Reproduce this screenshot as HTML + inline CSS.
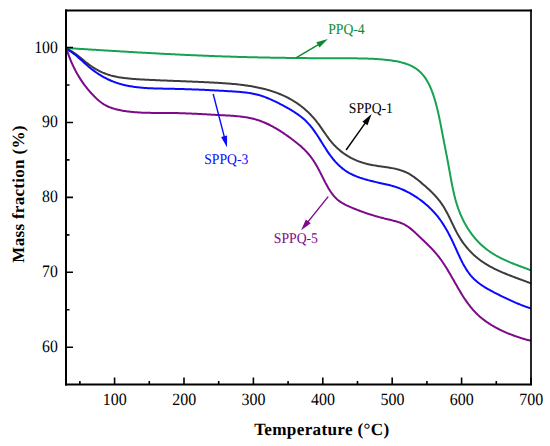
<!DOCTYPE html>
<html><head><meta charset="utf-8"><style>
html,body{margin:0;padding:0;background:#fff;width:550px;height:446px;overflow:hidden}
svg{display:block}
text{font-family:"Liberation Serif",serif;text-rendering:geometricPrecision}
</style></head><body>
<svg width="550" height="446" viewBox="0 0 550 446">
<rect width="550" height="446" fill="#fff"/>
<g fill="none" stroke-width="2" stroke-linejoin="round" stroke-linecap="round">
<path d="M66.89 48.06 L68.09 48.14 L69.29 48.21 L70.49 48.29 L71.69 48.37 L72.88 48.44 L74.08 48.52 L75.28 48.59 L76.48 48.67 L77.68 48.74 L78.88 48.82 L80.07 48.89 L81.27 48.97 L82.47 49.04 L83.67 49.12 L84.87 49.19 L86.06 49.27 L87.26 49.34 L88.46 49.42 L89.66 49.49 L90.85 49.57 L92.05 49.64 L93.25 49.72 L94.45 49.79 L95.64 49.87 L96.84 49.94 L98.04 50.01 L99.24 50.09 L100.43 50.16 L101.63 50.24 L102.83 50.31 L104.02 50.38 L105.22 50.46 L106.42 50.53 L107.62 50.60 L108.81 50.68 L110.01 50.75 L111.21 50.82 L112.40 50.89 L113.60 50.97 L114.80 51.04 L115.99 51.11 L117.19 51.18 L118.39 51.25 L119.58 51.33 L120.78 51.40 L121.98 51.47 L123.17 51.54 L124.37 51.61 L125.56 51.68 L126.76 51.75 L127.96 51.82 L129.15 51.89 L130.35 51.96 L131.55 52.03 L132.74 52.10 L133.94 52.17 L135.14 52.24 L136.33 52.31 L137.53 52.38 L138.72 52.44 L139.92 52.51 L141.12 52.58 L142.31 52.65 L143.51 52.71 L144.71 52.78 L145.90 52.85 L147.10 52.91 L148.30 52.98 L149.49 53.05 L150.69 53.11 L151.88 53.18 L153.08 53.24 L154.28 53.31 L155.47 53.37 L156.67 53.44 L157.87 53.50 L159.06 53.56 L160.26 53.63 L161.46 53.69 L162.65 53.75 L163.85 53.81 L165.05 53.88 L166.24 53.94 L167.44 54.00 L168.64 54.06 L169.83 54.12 L171.03 54.18 L172.23 54.24 L173.42 54.30 L174.62 54.36 L175.82 54.42 L177.01 54.48 L178.21 54.53 L179.41 54.59 L180.60 54.65 L181.80 54.71 L183.00 54.76 L184.20 54.82 L185.39 54.88 L186.59 54.93 L187.79 54.99 L188.99 55.04 L190.18 55.09 L191.38 55.15 L192.58 55.20 L193.78 55.25 L194.97 55.31 L196.17 55.36 L197.37 55.41 L198.57 55.46 L199.76 55.51 L200.96 55.56 L202.16 55.61 L203.36 55.66 L204.56 55.71 L205.76 55.76 L206.95 55.81 L208.15 55.85 L209.35 55.90 L210.55 55.95 L211.75 55.99 L212.95 56.04 L214.15 56.08 L215.35 56.13 L216.54 56.17 L217.74 56.22 L218.94 56.26 L220.14 56.30 L221.34 56.34 L222.54 56.39 L223.74 56.43 L224.94 56.47 L226.14 56.51 L227.34 56.55 L228.54 56.59 L229.74 56.62 L230.94 56.66 L232.14 56.70 L233.34 56.74 L234.54 56.77 L235.74 56.81 L236.94 56.84 L238.14 56.88 L239.34 56.91 L240.54 56.95 L241.74 56.98 L242.95 57.01 L244.15 57.05 L245.35 57.08 L246.55 57.11 L247.75 57.14 L248.95 57.17 L250.15 57.20 L251.35 57.23 L252.55 57.26 L253.75 57.29 L254.95 57.31 L256.16 57.34 L257.36 57.37 L258.56 57.40 L259.76 57.42 L260.96 57.45 L262.16 57.47 L263.36 57.50 L264.56 57.52 L265.76 57.55 L266.96 57.57 L268.17 57.59 L269.37 57.62 L270.57 57.64 L271.77 57.66 L272.97 57.68 L274.17 57.70 L275.37 57.72 L276.57 57.74 L277.77 57.76 L278.97 57.78 L280.17 57.80 L281.37 57.82 L282.57 57.84 L283.77 57.86 L284.97 57.87 L286.17 57.89 L287.37 57.91 L288.57 57.92 L289.77 57.94 L290.97 57.96 L292.17 57.97 L293.37 57.98 L294.57 58.00 L295.77 58.01 L296.97 58.03 L298.17 58.04 L299.36 58.05 L300.56 58.07 L301.76 58.08 L302.96 58.09 L304.16 58.10 L305.36 58.11 L306.55 58.12 L307.75 58.13 L308.95 58.14 L310.15 58.15 L311.34 58.16 L312.54 58.17 L313.74 58.18 L314.93 58.19 L316.13 58.20 L317.33 58.20 L318.52 58.21 L319.72 58.22 L320.91 58.22 L322.11 58.23 L323.30 58.24 L324.50 58.24 L325.69 58.25 L326.89 58.25 L328.08 58.26 L329.28 58.26 L330.47 58.27 L331.67 58.27 L332.86 58.28 L334.05 58.28 L335.25 58.28 L336.44 58.29 L337.63 58.29 L338.82 58.29 L340.02 58.29 L341.21 58.30 L342.40 58.30 L343.59 58.30 L344.78 58.30 L345.97 58.30 L347.16 58.30 L348.35 58.31 L349.55 58.31 L350.74 58.32 L351.93 58.32 L353.12 58.33 L354.31 58.34 L355.50 58.35 L356.70 58.36 L357.89 58.38 L359.08 58.39 L360.28 58.41 L361.47 58.44 L362.67 58.46 L363.86 58.49 L365.06 58.53 L366.26 58.56 L367.46 58.60 L368.65 58.65 L369.86 58.69 L371.06 58.75 L372.26 58.80 L373.46 58.87 L374.67 58.93 L375.88 59.00 L377.08 59.08 L378.29 59.17 L379.50 59.25 L380.72 59.35 L381.93 59.45 L383.15 59.56 L384.36 59.67 L385.58 59.79 L386.80 59.92 L388.02 60.06 L389.24 60.20 L390.46 60.36 L391.68 60.52 L392.90 60.70 L394.11 60.89 L395.31 61.09 L396.51 61.31 L397.71 61.55 L398.89 61.80 L400.07 62.07 L401.24 62.35 L402.40 62.66 L403.55 62.98 L404.69 63.33 L405.82 63.69 L406.93 64.08 L408.03 64.50 L409.12 64.94 L410.18 65.40 L411.24 65.89 L412.27 66.41 L413.29 66.95 L414.28 67.53 L415.26 68.13 L416.22 68.77 L417.15 69.43 L418.06 70.13 L418.95 70.86 L419.82 71.63 L420.66 72.43 L421.47 73.27 L422.26 74.14 L423.03 75.03 L423.77 75.96 L424.49 76.91 L425.19 77.88 L425.86 78.88 L426.51 79.90 L427.14 80.94 L427.74 81.99 L428.32 83.06 L428.88 84.15 L429.42 85.25 L429.95 86.36 L430.45 87.47 L430.93 88.60 L431.40 89.74 L431.84 90.89 L432.28 92.04 L432.70 93.19 L433.10 94.36 L433.49 95.52 L433.87 96.69 L434.24 97.86 L434.60 99.03 L434.95 100.20 L435.28 101.37 L435.61 102.54 L435.94 103.70 L436.25 104.87 L436.56 106.04 L436.85 107.20 L437.15 108.37 L437.43 109.53 L437.71 110.70 L437.98 111.86 L438.25 113.02 L438.51 114.19 L438.77 115.35 L439.02 116.51 L439.27 117.68 L439.51 118.84 L439.75 120.00 L439.99 121.17 L440.22 122.33 L440.45 123.49 L440.68 124.66 L440.90 125.82 L441.13 126.99 L441.35 128.15 L441.58 129.32 L441.80 130.48 L442.02 131.65 L442.24 132.81 L442.46 133.98 L442.69 135.15 L442.91 136.32 L443.14 137.49 L443.36 138.66 L443.59 139.83 L443.82 141.00 L444.05 142.17 L444.27 143.34 L444.50 144.51 L444.73 145.69 L444.96 146.86 L445.19 148.04 L445.42 149.21 L445.65 150.39 L445.88 151.56 L446.11 152.74 L446.34 153.92 L446.57 155.10 L446.80 156.28 L447.02 157.46 L447.25 158.64 L447.47 159.82 L447.70 161.00 L447.92 162.18 L448.14 163.37 L448.36 164.55 L448.58 165.73 L448.80 166.92 L449.01 168.10 L449.22 169.29 L449.44 170.48 L449.65 171.66 L449.86 172.85 L450.07 174.04 L450.28 175.23 L450.50 176.41 L450.71 177.60 L450.93 178.78 L451.14 179.97 L451.36 181.15 L451.59 182.34 L451.81 183.52 L452.04 184.70 L452.27 185.88 L452.51 187.06 L452.76 188.24 L453.00 189.42 L453.26 190.59 L453.52 191.76 L453.78 192.93 L454.06 194.10 L454.34 195.27 L454.62 196.43 L454.92 197.59 L455.22 198.75 L455.54 199.90 L455.86 201.06 L456.19 202.20 L456.53 203.35 L456.89 204.49 L457.25 205.63 L457.62 206.77 L458.01 207.90 L458.41 209.03 L458.82 210.15 L459.24 211.27 L459.68 212.39 L460.13 213.50 L460.59 214.60 L461.07 215.70 L461.56 216.80 L462.06 217.89 L462.58 218.97 L463.10 220.05 L463.65 221.12 L464.20 222.19 L464.77 223.24 L465.35 224.29 L465.95 225.34 L466.56 226.37 L467.18 227.40 L467.81 228.42 L468.46 229.43 L469.12 230.43 L469.80 231.42 L470.48 232.40 L471.18 233.37 L471.89 234.33 L472.62 235.28 L473.36 236.22 L474.11 237.15 L474.88 238.07 L475.65 238.98 L476.44 239.87 L477.25 240.75 L478.06 241.62 L478.89 242.48 L479.73 243.32 L480.59 244.16 L481.46 244.97 L482.34 245.78 L483.23 246.57 L484.13 247.34 L485.05 248.10 L485.98 248.85 L486.93 249.58 L487.88 250.29 L488.85 250.99 L489.83 251.68 L490.83 252.35 L491.83 253.00 L492.84 253.64 L493.87 254.27 L494.90 254.88 L495.95 255.49 L497.00 256.07 L498.06 256.65 L499.12 257.22 L500.20 257.77 L501.28 258.32 L502.37 258.85 L503.46 259.37 L504.56 259.89 L505.66 260.39 L506.77 260.89 L507.88 261.38 L509.00 261.86 L510.11 262.33 L511.23 262.80 L512.36 263.25 L513.48 263.71 L514.60 264.15 L515.73 264.59 L516.85 265.03 L517.98 265.46 L519.10 265.89 L520.22 266.31 L521.34 266.73 L522.46 267.14 L523.57 267.56 L524.68 267.97 L525.79 268.38 L526.89 268.78 L527.99 269.19 L529.08 269.59 L530.17 270.00" stroke="#16a252"/>
<path d="M66.93 48.89 L68.02 49.39 L69.09 49.92 L70.14 50.48 L71.17 51.07 L72.19 51.69 L73.20 52.34 L74.19 53.00 L75.17 53.69 L76.14 54.39 L77.10 55.11 L78.05 55.85 L78.99 56.59 L79.93 57.34 L80.87 58.10 L81.80 58.86 L82.74 59.63 L83.67 60.39 L84.61 61.16 L85.55 61.91 L86.49 62.67 L87.44 63.41 L88.39 64.14 L89.36 64.85 L90.33 65.55 L91.32 66.24 L92.31 66.91 L93.32 67.56 L94.33 68.19 L95.35 68.81 L96.39 69.40 L97.43 69.98 L98.48 70.54 L99.54 71.08 L100.60 71.60 L101.68 72.11 L102.76 72.59 L103.86 73.05 L104.96 73.48 L106.07 73.90 L107.19 74.29 L108.31 74.67 L109.44 75.02 L110.58 75.36 L111.73 75.67 L112.88 75.97 L114.04 76.25 L115.21 76.51 L116.38 76.75 L117.55 76.99 L118.73 77.20 L119.91 77.40 L121.10 77.59 L122.30 77.77 L123.49 77.93 L124.69 78.09 L125.89 78.23 L127.09 78.36 L128.30 78.49 L129.51 78.60 L130.72 78.71 L131.93 78.81 L133.14 78.90 L134.35 78.99 L135.57 79.08 L136.78 79.16 L137.99 79.23 L139.20 79.30 L140.41 79.38 L141.62 79.44 L142.83 79.51 L144.03 79.58 L145.24 79.64 L146.44 79.71 L147.65 79.77 L148.85 79.83 L150.05 79.89 L151.25 79.95 L152.45 80.01 L153.65 80.06 L154.84 80.12 L156.04 80.17 L157.23 80.23 L158.43 80.28 L159.62 80.33 L160.82 80.38 L162.01 80.43 L163.20 80.48 L164.39 80.53 L165.58 80.58 L166.77 80.62 L167.96 80.67 L169.15 80.72 L170.34 80.76 L171.53 80.81 L172.72 80.85 L173.91 80.90 L175.10 80.94 L176.28 80.99 L177.47 81.03 L178.66 81.08 L179.85 81.12 L181.03 81.17 L182.22 81.21 L183.41 81.26 L184.60 81.30 L185.78 81.35 L186.97 81.39 L188.16 81.44 L189.35 81.49 L190.53 81.53 L191.72 81.58 L192.91 81.63 L194.10 81.68 L195.29 81.73 L196.48 81.78 L197.67 81.83 L198.86 81.88 L200.05 81.93 L201.24 81.98 L202.43 82.04 L203.63 82.09 L204.82 82.15 L206.01 82.20 L207.21 82.26 L208.40 82.32 L209.60 82.38 L210.80 82.44 L212.00 82.51 L213.20 82.57 L214.40 82.64 L215.60 82.71 L216.80 82.77 L218.00 82.85 L219.21 82.92 L220.41 82.99 L221.62 83.07 L222.82 83.15 L224.03 83.23 L225.24 83.32 L226.44 83.40 L227.65 83.49 L228.86 83.59 L230.06 83.69 L231.27 83.79 L232.48 83.90 L233.68 84.01 L234.89 84.12 L236.09 84.24 L237.30 84.36 L238.50 84.49 L239.70 84.63 L240.90 84.77 L242.10 84.91 L243.30 85.07 L244.50 85.22 L245.69 85.39 L246.88 85.56 L248.08 85.74 L249.26 85.92 L250.45 86.11 L251.64 86.31 L252.82 86.51 L254.00 86.73 L255.18 86.95 L256.35 87.18 L257.53 87.42 L258.70 87.66 L259.86 87.92 L261.03 88.18 L262.19 88.46 L263.35 88.74 L264.50 89.03 L265.65 89.33 L266.80 89.64 L267.94 89.96 L269.08 90.30 L270.22 90.64 L271.35 90.99 L272.47 91.35 L273.60 91.73 L274.71 92.12 L275.83 92.51 L276.94 92.92 L278.04 93.34 L279.14 93.78 L280.24 94.22 L281.33 94.68 L282.41 95.15 L283.49 95.64 L284.56 96.13 L285.63 96.64 L286.69 97.17 L287.75 97.71 L288.80 98.26 L289.84 98.82 L290.88 99.40 L291.91 100.00 L292.94 100.61 L293.96 101.23 L294.97 101.87 L295.98 102.52 L296.98 103.19 L297.97 103.88 L298.95 104.58 L299.93 105.30 L300.90 106.02 L301.86 106.77 L302.81 107.53 L303.75 108.30 L304.68 109.08 L305.60 109.88 L306.51 110.69 L307.41 111.52 L308.29 112.35 L309.17 113.20 L310.03 114.06 L310.88 114.93 L311.72 115.82 L312.54 116.71 L313.35 117.62 L314.15 118.53 L314.93 119.46 L315.69 120.39 L316.45 121.34 L317.18 122.29 L317.91 123.25 L318.63 124.22 L319.33 125.19 L320.03 126.17 L320.72 127.15 L321.41 128.13 L322.09 129.12 L322.77 130.10 L323.45 131.09 L324.13 132.07 L324.81 133.05 L325.49 134.03 L326.17 135.01 L326.86 135.98 L327.56 136.94 L328.26 137.90 L328.97 138.85 L329.69 139.79 L330.42 140.73 L331.17 141.65 L331.93 142.56 L332.70 143.45 L333.49 144.34 L334.30 145.21 L335.13 146.06 L335.97 146.90 L336.83 147.73 L337.70 148.54 L338.59 149.33 L339.50 150.11 L340.42 150.87 L341.36 151.62 L342.31 152.34 L343.27 153.06 L344.25 153.75 L345.24 154.43 L346.24 155.08 L347.26 155.72 L348.28 156.35 L349.32 156.95 L350.37 157.53 L351.43 158.10 L352.50 158.64 L353.58 159.17 L354.67 159.68 L355.76 160.16 L356.87 160.63 L357.98 161.07 L359.10 161.50 L360.23 161.90 L361.37 162.28 L362.51 162.64 L363.65 162.99 L364.81 163.31 L365.97 163.62 L367.13 163.91 L368.30 164.18 L369.47 164.44 L370.65 164.69 L371.83 164.93 L373.01 165.15 L374.20 165.37 L375.39 165.57 L376.58 165.77 L377.78 165.96 L378.97 166.14 L380.17 166.32 L381.37 166.49 L382.57 166.66 L383.77 166.83 L384.97 167.00 L386.17 167.17 L387.37 167.34 L388.57 167.53 L389.76 167.72 L390.95 167.92 L392.13 168.13 L393.31 168.36 L394.48 168.60 L395.65 168.86 L396.81 169.15 L397.96 169.45 L399.10 169.77 L400.23 170.11 L401.35 170.47 L402.47 170.86 L403.57 171.27 L404.66 171.71 L405.73 172.18 L406.80 172.67 L407.85 173.19 L408.88 173.74 L409.90 174.32 L410.90 174.93 L411.90 175.57 L412.88 176.23 L413.85 176.91 L414.81 177.61 L415.76 178.33 L416.71 179.06 L417.65 179.81 L418.59 180.56 L419.52 181.33 L420.46 182.10 L421.39 182.87 L422.32 183.65 L423.24 184.44 L424.17 185.23 L425.08 186.02 L426.00 186.83 L426.91 187.64 L427.81 188.45 L428.70 189.27 L429.59 190.10 L430.47 190.94 L431.34 191.78 L432.20 192.63 L433.05 193.49 L433.89 194.36 L434.71 195.24 L435.53 196.13 L436.33 197.02 L437.12 197.93 L437.89 198.85 L438.65 199.77 L439.39 200.71 L440.11 201.66 L440.82 202.62 L441.51 203.59 L442.18 204.57 L442.84 205.56 L443.47 206.56 L444.10 207.58 L444.70 208.60 L445.30 209.63 L445.88 210.67 L446.45 211.71 L447.02 212.76 L447.57 213.82 L448.11 214.88 L448.65 215.95 L449.18 217.02 L449.71 218.09 L450.23 219.17 L450.75 220.25 L451.27 221.33 L451.78 222.41 L452.30 223.49 L452.82 224.58 L453.34 225.66 L453.86 226.74 L454.39 227.81 L454.92 228.89 L455.46 229.96 L456.01 231.02 L456.57 232.09 L457.13 233.14 L457.71 234.19 L458.30 235.24 L458.90 236.28 L459.51 237.31 L460.14 238.33 L460.78 239.34 L461.44 240.34 L462.11 241.34 L462.79 242.32 L463.49 243.29 L464.21 244.26 L464.94 245.21 L465.68 246.16 L466.43 247.09 L467.20 248.01 L467.98 248.92 L468.78 249.81 L469.59 250.69 L470.41 251.57 L471.24 252.42 L472.09 253.27 L472.95 254.10 L473.82 254.92 L474.70 255.72 L475.60 256.51 L476.51 257.28 L477.43 258.04 L478.36 258.78 L479.30 259.51 L480.26 260.22 L481.22 260.92 L482.20 261.60 L483.19 262.27 L484.18 262.93 L485.19 263.57 L486.20 264.20 L487.22 264.82 L488.25 265.42 L489.29 266.01 L490.34 266.60 L491.40 267.17 L492.46 267.73 L493.52 268.28 L494.60 268.82 L495.68 269.35 L496.76 269.87 L497.85 270.38 L498.95 270.89 L500.05 271.38 L501.15 271.87 L502.26 272.35 L503.37 272.83 L504.49 273.29 L505.61 273.76 L506.73 274.21 L507.85 274.66 L508.97 275.11 L510.10 275.55 L511.22 275.98 L512.35 276.42 L513.48 276.84 L514.60 277.27 L515.73 277.69 L516.86 278.11 L517.98 278.53 L519.10 278.94 L520.22 279.36 L521.34 279.77 L522.46 280.18 L523.57 280.60 L524.68 281.01 L525.79 281.42 L526.89 281.83 L527.99 282.25 L529.09 282.66 L530.18 283.08" stroke="#3c3c3c"/>
<path d="M66.86 49.24 L67.93 49.83 L68.98 50.45 L70.00 51.08 L71.01 51.74 L71.99 52.42 L72.97 53.12 L73.92 53.84 L74.86 54.57 L75.80 55.32 L76.72 56.08 L77.63 56.85 L78.53 57.63 L79.43 58.42 L80.32 59.21 L81.20 60.01 L82.09 60.82 L82.97 61.62 L83.86 62.43 L84.75 63.23 L85.64 64.04 L86.53 64.83 L87.43 65.62 L88.34 66.41 L89.26 67.18 L90.19 67.95 L91.12 68.70 L92.07 69.44 L93.03 70.17 L93.99 70.89 L94.97 71.60 L95.95 72.29 L96.95 72.98 L97.95 73.64 L98.96 74.30 L99.98 74.94 L101.01 75.57 L102.04 76.18 L103.08 76.78 L104.13 77.36 L105.19 77.92 L106.25 78.47 L107.32 79.01 L108.40 79.52 L109.48 80.03 L110.57 80.51 L111.67 80.97 L112.77 81.42 L113.88 81.85 L114.99 82.26 L116.11 82.66 L117.23 83.03 L118.36 83.39 L119.49 83.74 L120.63 84.06 L121.77 84.37 L122.92 84.67 L124.07 84.95 L125.22 85.22 L126.38 85.48 L127.55 85.72 L128.71 85.94 L129.88 86.16 L131.06 86.36 L132.23 86.55 L133.41 86.73 L134.60 86.90 L135.78 87.05 L136.97 87.20 L138.16 87.34 L139.36 87.47 L140.55 87.58 L141.75 87.69 L142.95 87.80 L144.15 87.89 L145.36 87.98 L146.56 88.05 L147.77 88.13 L148.97 88.19 L150.18 88.25 L151.39 88.31 L152.60 88.36 L153.81 88.40 L155.03 88.44 L156.24 88.48 L157.45 88.51 L158.66 88.55 L159.88 88.57 L161.09 88.60 L162.30 88.62 L163.51 88.65 L164.72 88.67 L165.93 88.69 L167.14 88.71 L168.35 88.73 L169.56 88.75 L170.76 88.77 L171.96 88.80 L173.17 88.82 L174.37 88.85 L175.57 88.88 L176.77 88.91 L177.96 88.94 L179.16 88.97 L180.36 89.00 L181.55 89.03 L182.75 89.07 L183.94 89.10 L185.13 89.14 L186.32 89.18 L187.51 89.21 L188.70 89.25 L189.89 89.30 L191.08 89.34 L192.27 89.38 L193.46 89.43 L194.64 89.47 L195.83 89.52 L197.02 89.57 L198.21 89.61 L199.39 89.66 L200.58 89.71 L201.77 89.77 L202.95 89.82 L204.14 89.87 L205.33 89.93 L206.51 89.98 L207.70 90.04 L208.89 90.10 L210.08 90.16 L211.26 90.22 L212.45 90.28 L213.64 90.34 L214.83 90.40 L216.02 90.46 L217.21 90.53 L218.41 90.59 L219.60 90.66 L220.79 90.73 L221.99 90.80 L223.18 90.87 L224.38 90.94 L225.58 91.01 L226.77 91.08 L227.97 91.15 L229.18 91.22 L230.38 91.30 L231.58 91.37 L232.79 91.45 L233.99 91.53 L235.20 91.61 L236.41 91.69 L237.62 91.77 L238.82 91.86 L240.03 91.96 L241.24 92.06 L242.44 92.17 L243.64 92.29 L244.84 92.42 L246.04 92.56 L247.24 92.71 L248.43 92.87 L249.61 93.05 L250.80 93.24 L251.97 93.45 L253.15 93.67 L254.31 93.91 L255.47 94.17 L256.63 94.45 L257.78 94.74 L258.92 95.06 L260.05 95.39 L261.18 95.75 L262.30 96.12 L263.42 96.51 L264.53 96.91 L265.64 97.33 L266.74 97.76 L267.84 98.21 L268.94 98.67 L270.03 99.14 L271.12 99.62 L272.21 100.11 L273.29 100.62 L274.37 101.12 L275.45 101.64 L276.53 102.17 L277.61 102.69 L278.69 103.23 L279.77 103.77 L280.84 104.32 L281.91 104.88 L282.98 105.44 L284.05 106.01 L285.11 106.58 L286.17 107.17 L287.23 107.76 L288.28 108.36 L289.33 108.96 L290.37 109.58 L291.40 110.20 L292.43 110.83 L293.46 111.48 L294.47 112.13 L295.48 112.79 L296.48 113.46 L297.47 114.14 L298.46 114.83 L299.43 115.53 L300.39 116.25 L301.33 116.98 L302.26 117.72 L303.17 118.49 L304.07 119.27 L304.95 120.07 L305.80 120.88 L306.64 121.72 L307.46 122.57 L308.26 123.44 L309.05 124.32 L309.82 125.21 L310.58 126.12 L311.33 127.05 L312.06 127.98 L312.78 128.93 L313.49 129.89 L314.19 130.85 L314.88 131.83 L315.56 132.81 L316.23 133.81 L316.90 134.80 L317.56 135.81 L318.22 136.82 L318.87 137.83 L319.51 138.85 L320.16 139.87 L320.80 140.89 L321.44 141.92 L322.08 142.94 L322.72 143.97 L323.36 144.99 L324.00 146.02 L324.65 147.04 L325.30 148.05 L325.96 149.07 L326.62 150.08 L327.28 151.08 L327.95 152.08 L328.63 153.07 L329.32 154.05 L330.02 155.02 L330.73 155.99 L331.45 156.94 L332.18 157.89 L332.92 158.82 L333.68 159.74 L334.45 160.65 L335.23 161.54 L336.03 162.42 L336.85 163.28 L337.68 164.13 L338.52 164.96 L339.38 165.78 L340.25 166.57 L341.14 167.35 L342.05 168.11 L342.97 168.85 L343.91 169.56 L344.86 170.26 L345.83 170.93 L346.82 171.58 L347.83 172.21 L348.85 172.81 L349.89 173.39 L350.95 173.94 L352.02 174.47 L353.10 174.98 L354.20 175.47 L355.31 175.94 L356.42 176.39 L357.55 176.82 L358.69 177.23 L359.83 177.64 L360.98 178.02 L362.14 178.39 L363.29 178.76 L364.45 179.10 L365.62 179.44 L366.78 179.77 L367.94 180.09 L369.11 180.41 L370.28 180.71 L371.44 181.01 L372.61 181.30 L373.78 181.58 L374.95 181.86 L376.12 182.13 L377.29 182.40 L378.46 182.67 L379.63 182.93 L380.80 183.19 L381.97 183.44 L383.15 183.70 L384.32 183.96 L385.49 184.21 L386.65 184.48 L387.82 184.75 L388.98 185.02 L390.14 185.31 L391.29 185.61 L392.44 185.93 L393.58 186.26 L394.72 186.61 L395.85 186.98 L396.97 187.37 L398.08 187.77 L399.19 188.18 L400.30 188.62 L401.39 189.07 L402.49 189.53 L403.57 190.01 L404.65 190.51 L405.72 191.02 L406.78 191.55 L407.84 192.09 L408.89 192.65 L409.94 193.22 L410.98 193.81 L412.01 194.41 L413.04 195.02 L414.06 195.65 L415.07 196.29 L416.08 196.94 L417.08 197.61 L418.07 198.29 L419.05 198.99 L420.03 199.70 L421.00 200.42 L421.97 201.15 L422.92 201.89 L423.87 202.65 L424.80 203.42 L425.73 204.19 L426.65 204.99 L427.55 205.79 L428.45 206.60 L429.33 207.43 L430.20 208.26 L431.06 209.11 L431.91 209.96 L432.75 210.83 L433.57 211.70 L434.38 212.59 L435.17 213.48 L435.95 214.39 L436.72 215.30 L437.47 216.23 L438.21 217.16 L438.93 218.10 L439.64 219.05 L440.34 220.01 L441.02 220.97 L441.69 221.94 L442.35 222.93 L443.00 223.91 L443.64 224.91 L444.26 225.91 L444.88 226.92 L445.48 227.94 L446.08 228.96 L446.67 229.99 L447.25 231.03 L447.82 232.07 L448.38 233.12 L448.94 234.17 L449.49 235.23 L450.03 236.29 L450.57 237.36 L451.10 238.43 L451.63 239.51 L452.15 240.59 L452.67 241.68 L453.18 242.77 L453.69 243.86 L454.20 244.96 L454.70 246.06 L455.21 247.17 L455.71 248.27 L456.21 249.38 L456.71 250.49 L457.21 251.61 L457.71 252.72 L458.22 253.83 L458.72 254.94 L459.24 256.04 L459.75 257.15 L460.27 258.25 L460.80 259.34 L461.34 260.43 L461.88 261.51 L462.43 262.59 L462.99 263.66 L463.57 264.71 L464.15 265.76 L464.75 266.80 L465.36 267.83 L465.98 268.84 L466.62 269.84 L467.27 270.83 L467.94 271.81 L468.62 272.76 L469.33 273.71 L470.05 274.63 L470.79 275.54 L471.56 276.43 L472.34 277.30 L473.15 278.15 L473.97 278.98 L474.83 279.79 L475.70 280.58 L476.59 281.35 L477.50 282.10 L478.43 282.83 L479.38 283.55 L480.34 284.25 L481.32 284.93 L482.31 285.61 L483.32 286.26 L484.33 286.91 L485.36 287.54 L486.40 288.16 L487.45 288.77 L488.50 289.37 L489.56 289.97 L490.63 290.55 L491.70 291.13 L492.77 291.69 L493.85 292.26 L494.92 292.82 L496.00 293.37 L497.08 293.92 L498.16 294.47 L499.23 295.01 L500.31 295.55 L501.38 296.08 L502.46 296.61 L503.53 297.14 L504.61 297.66 L505.68 298.18 L506.76 298.69 L507.84 299.20 L508.92 299.71 L510.00 300.21 L511.08 300.70 L512.17 301.19 L513.25 301.67 L514.34 302.15 L515.44 302.62 L516.53 303.08 L517.63 303.54 L518.73 303.99 L519.84 304.44 L520.95 304.88 L522.06 305.31 L523.18 305.74 L524.30 306.16 L525.42 306.57 L526.56 306.98 L527.69 307.38 L528.83 307.77 L529.98 308.15" stroke="#0a0aff"/>
<path d="M66.81 49.62 L67.17 50.77 L67.54 51.91 L67.92 53.05 L68.31 54.18 L68.71 55.31 L69.12 56.44 L69.54 57.56 L69.98 58.67 L70.42 59.79 L70.88 60.89 L71.34 62.00 L71.82 63.09 L72.31 64.19 L72.81 65.27 L73.32 66.35 L73.84 67.43 L74.37 68.50 L74.91 69.57 L75.46 70.63 L76.03 71.68 L76.60 72.73 L77.19 73.77 L77.78 74.81 L78.39 75.84 L79.01 76.86 L79.64 77.88 L80.28 78.89 L80.93 79.89 L81.60 80.89 L82.27 81.88 L82.95 82.86 L83.65 83.83 L84.36 84.80 L85.08 85.76 L85.81 86.71 L86.55 87.66 L87.30 88.60 L88.06 89.53 L88.83 90.45 L89.62 91.36 L90.42 92.26 L91.22 93.16 L92.04 94.05 L92.87 94.93 L93.71 95.80 L94.57 96.66 L95.43 97.51 L96.31 98.35 L97.20 99.18 L98.10 99.98 L99.02 100.77 L99.95 101.53 L100.90 102.27 L101.86 102.97 L102.84 103.65 L103.84 104.30 L104.85 104.91 L105.89 105.48 L106.94 106.01 L108.01 106.51 L109.09 106.97 L110.18 107.41 L111.29 107.81 L112.41 108.19 L113.54 108.54 L114.68 108.87 L115.83 109.18 L116.98 109.47 L118.14 109.74 L119.30 110.00 L120.46 110.24 L121.63 110.47 L122.80 110.69 L123.97 110.89 L125.14 111.08 L126.32 111.26 L127.50 111.42 L128.69 111.58 L129.87 111.72 L131.06 111.85 L132.25 111.98 L133.44 112.09 L134.63 112.19 L135.83 112.29 L137.03 112.37 L138.22 112.45 L139.42 112.52 L140.63 112.58 L141.83 112.64 L143.03 112.69 L144.24 112.73 L145.44 112.77 L146.65 112.80 L147.86 112.83 L149.07 112.85 L150.27 112.87 L151.48 112.89 L152.69 112.90 L153.90 112.91 L155.11 112.92 L156.32 112.92 L157.53 112.92 L158.74 112.93 L159.95 112.93 L161.16 112.93 L162.37 112.93 L163.57 112.93 L164.78 112.93 L165.99 112.94 L167.19 112.94 L168.39 112.95 L169.60 112.96 L170.80 112.97 L172.00 112.99 L173.19 113.01 L174.39 113.03 L175.59 113.05 L176.78 113.08 L177.98 113.11 L179.17 113.14 L180.36 113.18 L181.55 113.21 L182.74 113.25 L183.94 113.29 L185.12 113.34 L186.31 113.38 L187.50 113.43 L188.69 113.48 L189.88 113.53 L191.07 113.58 L192.25 113.64 L193.44 113.69 L194.63 113.75 L195.82 113.81 L197.01 113.86 L198.19 113.92 L199.38 113.99 L200.57 114.05 L201.76 114.11 L202.95 114.17 L204.14 114.24 L205.33 114.30 L206.52 114.37 L207.71 114.43 L208.91 114.50 L210.10 114.57 L211.29 114.63 L212.49 114.70 L213.69 114.77 L214.88 114.83 L216.08 114.90 L217.28 114.96 L218.48 115.03 L219.69 115.09 L220.89 115.16 L222.10 115.22 L223.31 115.28 L224.52 115.35 L225.73 115.41 L226.94 115.48 L228.15 115.54 L229.36 115.62 L230.57 115.69 L231.78 115.77 L232.99 115.85 L234.20 115.94 L235.40 116.04 L236.61 116.14 L237.81 116.25 L239.02 116.38 L240.21 116.50 L241.41 116.64 L242.60 116.79 L243.79 116.96 L244.98 117.13 L246.16 117.32 L247.34 117.52 L248.51 117.73 L249.68 117.96 L250.85 118.21 L252.01 118.47 L253.16 118.75 L254.31 119.05 L255.45 119.36 L256.58 119.70 L257.71 120.05 L258.83 120.42 L259.95 120.81 L261.06 121.21 L262.16 121.63 L263.26 122.07 L264.36 122.53 L265.44 123.00 L266.52 123.48 L267.60 123.98 L268.67 124.50 L269.74 125.02 L270.80 125.56 L271.85 126.12 L272.90 126.68 L273.95 127.26 L274.99 127.85 L276.03 128.45 L277.06 129.07 L278.09 129.69 L279.11 130.32 L280.13 130.96 L281.14 131.61 L282.15 132.27 L283.16 132.94 L284.16 133.61 L285.16 134.30 L286.15 134.99 L287.14 135.68 L288.13 136.38 L289.12 137.09 L290.10 137.81 L291.07 138.52 L292.05 139.25 L293.02 139.98 L293.98 140.71 L294.94 141.45 L295.89 142.20 L296.83 142.95 L297.77 143.72 L298.70 144.49 L299.61 145.27 L300.52 146.06 L301.42 146.85 L302.31 147.66 L303.18 148.48 L304.05 149.31 L304.89 150.14 L305.73 150.99 L306.55 151.86 L307.36 152.73 L308.15 153.62 L308.93 154.51 L309.68 155.43 L310.42 156.35 L311.15 157.29 L311.85 158.25 L312.54 159.21 L313.20 160.19 L313.86 161.18 L314.50 162.19 L315.12 163.20 L315.74 164.22 L316.34 165.26 L316.93 166.30 L317.52 167.34 L318.09 168.40 L318.66 169.46 L319.22 170.52 L319.77 171.59 L320.32 172.67 L320.87 173.74 L321.42 174.82 L321.96 175.90 L322.50 176.98 L323.05 178.06 L323.59 179.13 L324.14 180.21 L324.70 181.28 L325.25 182.36 L325.82 183.42 L326.39 184.48 L326.97 185.54 L327.55 186.59 L328.15 187.63 L328.76 188.67 L329.38 189.69 L330.02 190.70 L330.67 191.70 L331.34 192.68 L332.03 193.64 L332.75 194.58 L333.48 195.50 L334.24 196.39 L335.03 197.26 L335.85 198.09 L336.69 198.90 L337.57 199.68 L338.48 200.42 L339.42 201.13 L340.39 201.81 L341.39 202.46 L342.41 203.09 L343.45 203.69 L344.51 204.27 L345.58 204.83 L346.67 205.37 L347.77 205.89 L348.88 206.40 L350.00 206.89 L351.12 207.37 L352.24 207.84 L353.37 208.31 L354.49 208.76 L355.61 209.21 L356.73 209.66 L357.85 210.09 L358.98 210.52 L360.10 210.95 L361.22 211.36 L362.34 211.77 L363.46 212.17 L364.59 212.57 L365.71 212.96 L366.84 213.34 L367.97 213.72 L369.10 214.09 L370.23 214.45 L371.36 214.81 L372.50 215.16 L373.64 215.51 L374.78 215.85 L375.92 216.18 L377.07 216.51 L378.22 216.84 L379.37 217.16 L380.52 217.47 L381.69 217.77 L382.85 218.08 L384.02 218.37 L385.19 218.66 L386.37 218.95 L387.55 219.23 L388.73 219.51 L389.92 219.80 L391.10 220.08 L392.28 220.37 L393.46 220.67 L394.63 220.99 L395.80 221.31 L396.95 221.65 L398.10 222.02 L399.23 222.40 L400.36 222.80 L401.46 223.24 L402.55 223.70 L403.62 224.19 L404.68 224.72 L405.71 225.28 L406.71 225.89 L407.70 226.52 L408.67 227.19 L409.63 227.89 L410.56 228.62 L411.49 229.36 L412.40 230.13 L413.30 230.92 L414.19 231.72 L415.07 232.54 L415.95 233.36 L416.83 234.19 L417.70 235.02 L418.57 235.86 L419.44 236.69 L420.32 237.52 L421.19 238.35 L422.06 239.18 L422.93 240.00 L423.80 240.83 L424.67 241.66 L425.53 242.49 L426.39 243.33 L427.25 244.16 L428.10 245.00 L428.95 245.84 L429.79 246.69 L430.62 247.55 L431.45 248.40 L432.27 249.27 L433.08 250.14 L433.88 251.02 L434.68 251.90 L435.46 252.80 L436.24 253.70 L437.00 254.61 L437.75 255.54 L438.49 256.47 L439.22 257.41 L439.94 258.36 L440.65 259.32 L441.34 260.29 L442.03 261.27 L442.71 262.26 L443.38 263.25 L444.05 264.25 L444.70 265.25 L445.35 266.27 L446.00 267.28 L446.63 268.31 L447.26 269.34 L447.89 270.37 L448.51 271.40 L449.13 272.44 L449.74 273.49 L450.35 274.53 L450.95 275.58 L451.56 276.63 L452.16 277.69 L452.76 278.74 L453.36 279.79 L453.96 280.85 L454.55 281.90 L455.15 282.96 L455.75 284.01 L456.35 285.06 L456.95 286.11 L457.55 287.16 L458.16 288.21 L458.77 289.25 L459.38 290.29 L459.99 291.33 L460.61 292.36 L461.23 293.39 L461.86 294.41 L462.50 295.43 L463.14 296.44 L463.79 297.44 L464.44 298.44 L465.10 299.43 L465.77 300.42 L466.45 301.40 L467.13 302.37 L467.83 303.33 L468.53 304.28 L469.25 305.22 L469.97 306.15 L470.71 307.07 L471.46 307.99 L472.22 308.89 L472.99 309.78 L473.77 310.65 L474.57 311.52 L475.38 312.37 L476.21 313.21 L477.05 314.04 L477.90 314.85 L478.77 315.65 L479.65 316.44 L480.55 317.21 L481.46 317.97 L482.38 318.72 L483.31 319.45 L484.26 320.17 L485.22 320.88 L486.18 321.58 L487.16 322.26 L488.15 322.94 L489.15 323.60 L490.16 324.24 L491.18 324.88 L492.21 325.51 L493.25 326.12 L494.29 326.72 L495.34 327.31 L496.40 327.89 L497.47 328.46 L498.55 329.01 L499.63 329.56 L500.72 330.10 L501.81 330.62 L502.91 331.13 L504.01 331.64 L505.12 332.13 L506.24 332.61 L507.35 333.08 L508.47 333.55 L509.60 334.00 L510.73 334.44 L511.86 334.88 L512.99 335.30 L514.12 335.71 L515.26 336.12 L516.40 336.51 L517.53 336.90 L518.67 337.28 L519.81 337.65 L520.95 338.01 L522.09 338.36 L523.22 338.70 L524.36 339.04 L525.49 339.36 L526.62 339.68 L527.75 339.99 L528.88 340.29 L530.00 340.59" stroke="#7d0a88"/>
</g>
<path d="M79.88 384.50 V381.00 M114.58 384.50 V377.50 M149.28 384.50 V381.00 M183.99 384.50 V377.50 M218.69 384.50 V381.00 M253.39 384.50 V377.50 M288.09 384.50 V381.00 M322.79 384.50 V377.50 M357.49 384.50 V381.00 M392.19 384.50 V377.50 M426.90 384.50 V381.00 M461.60 384.50 V377.50 M496.30 384.50 V381.00 M531.00 384.50 V377.50 M66.00 347.20 H73.00 M66.00 309.74 H69.50 M66.00 272.29 H73.00 M66.00 234.83 H69.50 M66.00 197.38 H73.00 M66.00 159.92 H69.50 M66.00 122.46 H73.00 M66.00 85.01 H69.50 M66.00 47.55 H73.00" stroke="#000" stroke-width="1.6" fill="none"/>
<g stroke="#000" fill="none" stroke-linecap="square">
<path d="M66.0 10.45 V384.50" stroke-width="2"/>
<path d="M66.0 10.45 H531.0" stroke-width="2"/>
<path d="M531.0 10.45 V384.50" stroke-width="1.7"/>
<path d="M66.0 384.50 H531.0" stroke-width="1.8"/>
</g>
<g font-size="17.2" fill="#000"><text transform="translate(114.78,404.80) scale(0.930,1)" text-anchor="middle">100</text><text transform="translate(184.19,404.80) scale(0.930,1)" text-anchor="middle">200</text><text transform="translate(253.59,404.80) scale(0.930,1)" text-anchor="middle">300</text><text transform="translate(322.99,404.80) scale(0.930,1)" text-anchor="middle">400</text><text transform="translate(392.39,404.80) scale(0.930,1)" text-anchor="middle">500</text><text transform="translate(461.80,404.80) scale(0.930,1)" text-anchor="middle">600</text><text transform="translate(531.20,404.80) scale(0.930,1)" text-anchor="middle">700</text></g><g font-size="17.4" fill="#000"><text transform="translate(57.80,352.20) scale(0.905,1)" text-anchor="end">60</text><text transform="translate(57.80,277.29) scale(0.905,1)" text-anchor="end">70</text><text transform="translate(57.80,202.38) scale(0.905,1)" text-anchor="end">80</text><text transform="translate(57.80,127.46) scale(0.905,1)" text-anchor="end">90</text><text transform="translate(57.80,52.55) scale(0.905,1)" text-anchor="end">100</text></g>
<text transform="translate(321.8,434.8) scale(1.0,1)" text-anchor="middle" font-size="17.2" letter-spacing="0.3" font-weight="bold">Temperature (°C)</text>
<text transform="translate(23.8,194.0) rotate(-90) scale(1.0,1)" text-anchor="middle" font-size="17.0" letter-spacing="0.3" font-weight="bold">Mass fraction (%)</text>
<line x1="296.0" y1="57.8" x2="318.8" y2="44.3" stroke="#0b8a30" stroke-width="1.4"/><polygon points="327.8,39.0 319.5,47.5 316.3,42.2" fill="#0b8a30"/>
<text transform="translate(328.2,33.9) scale(0.925,1)" font-size="14.8" fill="#0b8a30">PPQ-4</text>
<line x1="346.1" y1="150.0" x2="365.5" y2="122.7" stroke="#000" stroke-width="1.4"/><polygon points="371.6,114.1 367.5,125.3 362.4,121.7" fill="#000"/>
<text transform="translate(348.8,112.89999999999999) scale(0.925,1)" font-size="14.8" fill="#000">SPPQ-1</text>
<line x1="213.2" y1="94.0" x2="224.4" y2="137.1" stroke="#0a0aff" stroke-width="1.4"/><polygon points="227.0,147.3 221.1,136.9 227.1,135.4" fill="#0a0aff"/>
<text transform="translate(204.2,164.0) scale(0.925,1)" font-size="14.8" fill="#0a0aff">SPPQ-3</text>
<line x1="328.2" y1="196.6" x2="307.7" y2="222.1" stroke="#7d0a88" stroke-width="1.4"/><polygon points="301.1,230.3 305.9,219.4 310.7,223.3" fill="#7d0a88"/>
<text transform="translate(273.8,243.1) scale(0.925,1)" font-size="14.8" fill="#7d0a88">SPPQ-5</text>
</svg>
</body></html>
